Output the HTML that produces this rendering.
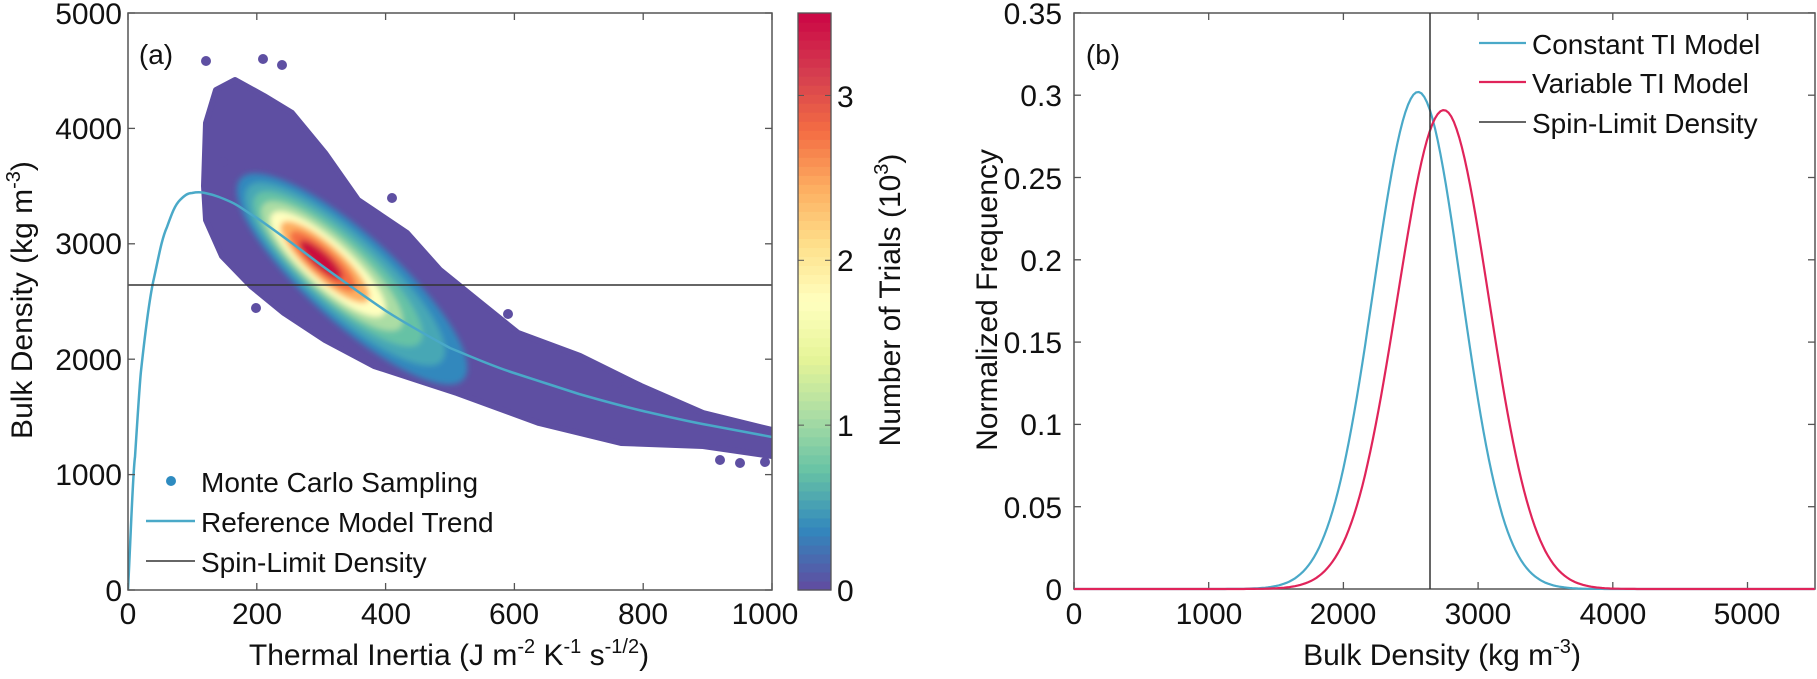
<!DOCTYPE html>
<html><head><meta charset="utf-8"><style>
html,body{margin:0;padding:0;background:#fff;}
svg{display:block;font-family:"Liberation Sans",Arial,sans-serif;}
</style></head><body>
<svg id="s" width="1817" height="679" viewBox="0 0 1817 679" xmlns="http://www.w3.org/2000/svg">
<defs>
<filter id="bl" x="-50%" y="-50%" width="200%" height="200%"><feGaussianBlur stdDeviation="3"/></filter>
<clipPath id="cpA"><rect x="128" y="13" width="644" height="577"/></clipPath>
</defs>
<rect width="1817" height="679" fill="#fff"/>
<g clip-path="url(#cpA)">
<path fill="#5e4fa2" stroke="#5e4fa2" stroke-width="6" stroke-linejoin="round" d="M206,123 L216,90 L235,80 L264,96 L292,113 L325,153 L358,200 L407,233 L440,270 L477,300 L518,333 L580,356 L641,386 L703,413 L772,430 L772,456 L703,446 L621,443 L539,423 L457,393 L374,366 L325,340 L284,313 L251,286 L222,256 L206,220 L204,186 Z"/>
<g fill="#5e4fa2">
<circle cx="223" cy="162" r="5"/><circle cx="206" cy="61" r="5"/><circle cx="263" cy="59" r="5"/><circle cx="282" cy="65" r="5"/><circle cx="392" cy="198" r="5"/><circle cx="508" cy="314" r="5"/><circle cx="617" cy="383" r="5"/><circle cx="628" cy="383" r="5"/><circle cx="720" cy="460" r="5"/><circle cx="740" cy="463" r="5"/><circle cx="765" cy="462" r="5"/><circle cx="256" cy="308" r="5"/>
</g>
<g filter="url(#bl)">
<ellipse cx="352" cy="279" rx="150" ry="44" transform="rotate(42 352 279)" fill="#3288bd"/>
<ellipse cx="345" cy="274" rx="130" ry="38" transform="rotate(42 345 274)" fill="#46a7b5"/>
<ellipse cx="338" cy="269" rx="110" ry="32" transform="rotate(42 338 269)" fill="#66c2a5"/>
<ellipse cx="332" cy="266" rx="92" ry="27" transform="rotate(42 332 266)" fill="#abdda4"/>
<ellipse cx="328" cy="264" rx="75" ry="22" transform="rotate(42 328 264)" fill="#ffffbf"/>
<ellipse cx="325" cy="262" rx="58" ry="17" transform="rotate(42 325 262)" fill="#fdae61"/>
<ellipse cx="323" cy="261" rx="43" ry="12.5" transform="rotate(42 323 261)" fill="#f46d43"/>
<ellipse cx="321" cy="260" rx="28" ry="8" transform="rotate(42 321 260)" fill="#c9103e"/>
</g>
<path fill="none" stroke="#4aa9c8" stroke-width="2.5" d="M128,590 C131,530 133,470 135,457 C138,410 140,380 141,371 C146,325 150,295 154,278 C159,255 162,238 167,227 C172,213 175,205 180,200 C185,195 188,193 192,193 C197,192 201,192 205,193 C215,195 222,198 231,202 C240,206 248,213 257,218 C280,234 300,249 321,265 C343,281 364,296 386,311 C408,325 428,336 450,348 C472,357 492,366 514,373 C536,380 557,387 579,394 C600,400 622,406 643,411 C665,416 686,421 708,425 C730,429 750,433 772,437"/>
<line x1="128" y1="285" x2="772" y2="285" stroke="#333" stroke-width="1.5"/>
</g>
<rect x="128" y="13" width="644" height="577" fill="none" stroke="#555" stroke-width="1.5"/>
<g id="ticksA" stroke="#555" stroke-width="1.3"></g>
<g font-size="30" fill="#111">
<text x="156" y="64" text-anchor="middle" font-size="28">(a)</text>
<g text-anchor="end">
<text x="122" y="601">0</text><text x="122" y="485">1000</text><text x="122" y="370">2000</text><text x="122" y="254">3000</text><text x="122" y="139">4000</text><text x="122" y="24">5000</text>
</g>
<g text-anchor="middle">
<text x="128" y="624">0</text><text x="257" y="624">200</text><text x="386" y="624">400</text><text x="514" y="624">600</text><text x="643" y="624">800</text><text x="765" y="624">1000</text>
</g>
<text x="449" y="665" text-anchor="middle">Thermal Inertia (J m<tspan font-size="20" dy="-12">-2</tspan><tspan dy="12"> K</tspan><tspan font-size="20" dy="-12">-1</tspan><tspan dy="12"> s</tspan><tspan font-size="20" dy="-12">-1/2</tspan><tspan dy="12">)</tspan></text>
<text transform="translate(32,300) rotate(-90)" text-anchor="middle">Bulk Density (kg m<tspan font-size="20" dy="-12">-3</tspan><tspan dy="12">)</tspan></text>
<circle cx="171" cy="481" r="5" fill="#2e8bc0"/>
<text x="201" y="492" font-size="28">Monte Carlo Sampling</text>
<line x1="146" y1="521" x2="195" y2="521" stroke="#4aa9c8" stroke-width="2.5"/>
<text x="201" y="532" font-size="28">Reference Model Trend</text>
<line x1="146" y1="561" x2="195" y2="561" stroke="#333" stroke-width="1.5"/>
<text x="201" y="572" font-size="28">Spin-Limit Density</text>
</g>
<g id="cbar"></g>
<rect x="798" y="13" width="33" height="577" fill="none" stroke="#555" stroke-width="1.3"/>
<g font-size="30" fill="#111">
<text x="837" y="601">0</text><text x="837" y="436">1</text><text x="837" y="271">2</text><text x="837" y="107">3</text>
<text transform="translate(900,300) rotate(-90)" text-anchor="middle">Number of Trials (10<tspan font-size="20" dy="-12">3</tspan><tspan dy="12">)</tspan></text>
</g>
<rect x="1074" y="13" width="741" height="576" fill="none" stroke="#555" stroke-width="1.5"/>
<g id="ticksB" stroke="#555" stroke-width="1.3"></g>
<path id="pb" fill="none" stroke="#4aa9c8" stroke-width="2.2"/>
<path id="pr" fill="none" stroke="#e0245a" stroke-width="2.2"/>
<line x1="1430" y1="13" x2="1430" y2="589" stroke="#333" stroke-width="1.5"/>
<g font-size="30" fill="#111">
<text x="1103" y="64" text-anchor="middle" font-size="28">(b)</text>
<g text-anchor="end">
<text x="1062" y="600">0</text><text x="1062" y="518">0.05</text><text x="1062" y="435">0.1</text><text x="1062" y="353">0.15</text><text x="1062" y="271">0.2</text><text x="1062" y="189">0.25</text><text x="1062" y="106">0.3</text><text x="1062" y="24">0.35</text>
</g>
<g text-anchor="middle">
<text x="1074" y="624">0</text><text x="1209" y="624">1000</text><text x="1343" y="624">2000</text><text x="1478" y="624">3000</text><text x="1613" y="624">4000</text><text x="1747" y="624">5000</text>
</g>
<text x="1442" y="665" text-anchor="middle">Bulk Density (kg m<tspan font-size="20" dy="-12">-3</tspan><tspan dy="12">)</tspan></text>
<text transform="translate(997,300) rotate(-90)" text-anchor="middle">Normalized Frequency</text>
<line x1="1479" y1="43" x2="1526" y2="43" stroke="#4aa9c8" stroke-width="2.2"/>
<text x="1532" y="54" font-size="28">Constant TI Model</text>
<line x1="1479" y1="82" x2="1526" y2="82" stroke="#e0245a" stroke-width="2.2"/>
<text x="1532" y="93" font-size="28">Variable TI Model</text>
<line x1="1479" y1="122" x2="1526" y2="122" stroke="#333" stroke-width="1.5"/>
<text x="1532" y="133" font-size="28">Spin-Limit Density</text>
</g>
</svg>
<script>
(function(){
var NS="http://www.w3.org/2000/svg";
function el(p,t,a){var e=document.createElementNS(NS,t);for(var k in a)e.setAttribute(k,a[k]);p.appendChild(e);return e;}
var tA=document.getElementById('ticksA');
for(var i=0;i<=5;i++){var x=128+i*128.8;el(tA,'line',{x1:x,y1:590,x2:x,y2:583});el(tA,'line',{x1:x,y1:13,x2:x,y2:20});}
for(var i=0;i<=5;i++){var y=590-i*115.4;el(tA,'line',{x1:128,y1:y,x2:135,y2:y});el(tA,'line',{x1:772,y1:y,x2:765,y2:y});}
var stops=[[94,79,162],[50,136,189],[102,194,165],[171,221,164],[230,245,152],[255,255,191],[254,224,139],[253,174,97],[244,109,67],[213,62,79],[204,10,70]];
var cb=document.getElementById('cbar');var N=64;
for(var i=0;i<N;i++){var t=i/(N-1)*(stops.length-1);var a=Math.floor(t),f=t-a;var b=Math.min(a+1,stops.length-1);
var c=stops[a].map(function(v,j){return Math.round(v+(stops[b][j]-v)*f);});
var y0=590-(i+1)*577/N;el(cb,'rect',{x:798,y:y0,width:33,height:577/N+0.6,fill:'rgb('+c.join(',')+')'});}
for(var i=0;i<=3;i++){var y=590-i*577/3.5;el(cb,'line',{x1:798,y1:y,x2:804,y2:y,stroke:'#555'});el(cb,'line',{x1:831,y1:y,x2:825,y2:y,stroke:'#555'});}
var tB=document.getElementById('ticksB');
for(var i=0;i<=5;i++){var x=1074+i*134.7;el(tB,'line',{x1:x,y1:589,x2:x,y2:582});el(tB,'line',{x1:x,y1:13,x2:x,y2:20});}
for(var i=0;i<=7;i++){var y=589-i*82.3;el(tB,'line',{x1:1074,y1:y,x2:1081,y2:y});el(tB,'line',{x1:1815,y1:y,x2:1808,y2:y});}
function dist(mu,sl,sr,pk){var d='';for(var v=0;v<=5500;v+=20){var s=v<mu?sl:sr;var p=pk*Math.exp(-0.5*Math.pow((v-mu)/s,2));
var x=1074+v*0.1347,y=589-p*1646;d+=(v?'L':'M')+x.toFixed(1)+','+y.toFixed(1);}return d;}
document.getElementById('pb').setAttribute('d',dist(2555,330,320,0.302));
document.getElementById('pr').setAttribute('d',dist(2745,345,335,0.291));
})();
</script>
</body></html>
